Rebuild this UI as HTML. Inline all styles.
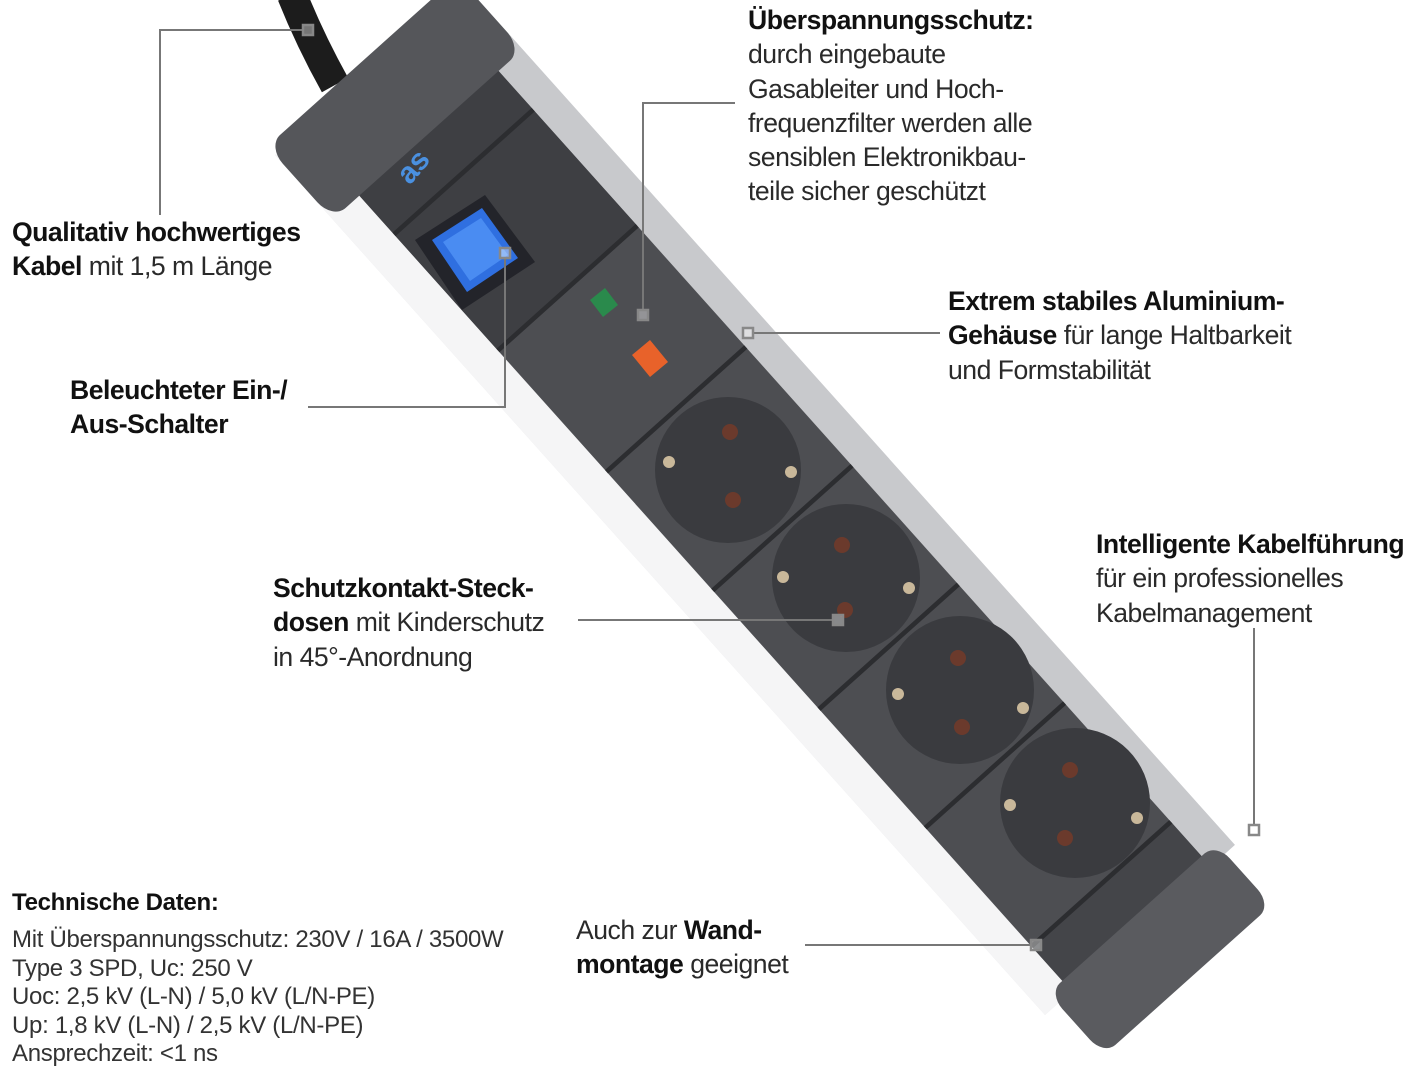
<!DOCTYPE html>
<html><head><meta charset="utf-8"><style>
body{margin:0;width:1416px;height:1080px;background:#fff;position:relative;overflow:hidden;font-family:"Liberation Sans",Arial,sans-serif;color:#2a2a2a}
.t{position:absolute;font-size:26.6px;line-height:34.3px;letter-spacing:-0.5px}
b{font-weight:bold;color:#111}
.s{position:absolute;font-size:24px;line-height:28.6px;color:#333;letter-spacing:-0.3px}
svg{position:absolute;left:0;top:0}
</style></head><body>
<svg width="1416" height="1080">
<path d="M292 -5 Q310 40 335 85" stroke="#1c1c1c" stroke-width="30" fill="none"/>
<g transform="matrix(0.77,0.86,0.633,-0.567,275,155)">
 <rect x="0" y="0" width="1000" height="300" fill="#e2e3e5"/>
 <rect x="0" y="0" width="1000" height="42" fill="#f5f5f6"/>
 <rect x="0" y="262" width="1000" height="38" fill="#c8c9cc"/>
 <rect x="0" y="42" width="1000" height="220" fill="#4d4e52"/>
 <rect x="-10" y="0" width="85" height="300" rx="20" fill="#55565a"/>
 <rect x="75" y="42" width="180" height="220" fill="#3e3f43"/>
 <rect x="948" y="42" width="40" height="220" fill="#444549"/>
 <rect x="988" y="20" width="72" height="265" rx="18" fill="#5a5b5f"/>
 <g stroke="#2c2d30" stroke-width="4">
  <line x1="120" y1="42" x2="120" y2="262"/><line x1="255" y1="42" x2="255" y2="262"/><line x1="396" y1="42" x2="396" y2="262"/><line x1="534" y1="42" x2="534" y2="262"/><line x1="672" y1="42" x2="672" y2="262"/><line x1="810" y1="42" x2="810" y2="262"/><line x1="948" y1="42" x2="948" y2="262"/>
 </g>
</g>
<polygon points="590,300 605,288 618,305 603,317" fill="#2a8a4c"/>
<polygon points="632,355 650,340 668,362 650,377" fill="#e8622a"/>
<polygon points="415,240 485,195 535,262 462,310" fill="#23242a"/>
<polygon points="432,240 482,208 518,258 467,292" fill="#2f6fe0"/>
<polygon points="443,242 481,218 508,255 470,281" fill="#4a8cf2"/>
<text x="398" y="180" fill="#4a90e0" font-size="30" font-weight="bold" font-family="Liberation Sans" transform="rotate(-50 410 170)">as</text>
<g fill="#3a3b3f">
 <circle cx="728" cy="470" r="73"/><circle cx="846" cy="578" r="74"/><circle cx="960" cy="690" r="74"/><circle cx="1075" cy="803" r="75"/>
</g>
<g fill="#6b3a2c">
 <circle cx="730" cy="432" r="8"/><circle cx="733" cy="500" r="8"/>
 <circle cx="842" cy="545" r="8"/><circle cx="845" cy="610" r="8"/>
 <circle cx="958" cy="658" r="8"/><circle cx="962" cy="727" r="8"/>
 <circle cx="1070" cy="770" r="8"/><circle cx="1065" cy="838" r="8"/>
</g>
<g fill="#c9b89a">
 <circle cx="669" cy="462" r="6"/><circle cx="791" cy="472" r="6"/>
 <circle cx="783" cy="577" r="6"/><circle cx="909" cy="588" r="6"/>
 <circle cx="898" cy="694" r="6"/><circle cx="1023" cy="708" r="6"/>
 <circle cx="1010" cy="805" r="6"/><circle cx="1137" cy="818" r="6"/>
</g>
<g stroke="#777" stroke-width="2" fill="none">
 <path d="M160 215 V30 H303"/><path d="M308 407 H505 V258"/><path d="M643 310 V103 H735"/>
 <path d="M753 333 H940"/><path d="M578 620 H833"/><path d="M1254 628 V825"/><path d="M805 945 H1031"/>
</g>
<g stroke="#888" stroke-width="2.5" fill="rgba(255,255,255,0.4)">
 <rect x="303" y="25" width="10" height="10"/><rect x="500" y="248" width="10" height="10"/><rect x="638" y="310" width="10" height="10"/>
 <rect x="743" y="328" width="10" height="10"/><rect x="833" y="615" width="10" height="10"/><rect x="1249" y="825" width="10" height="10"/><rect x="1031" y="940" width="10" height="10"/>
</g>
</svg>
<div class="t" style="left:12px;top:215px"><b>Qualitativ hochwertiges</b><br><b>Kabel</b> mit 1,5 m Länge</div>
<div class="t" style="left:70px;top:373px"><b>Beleuchteter Ein-/</b><br><b>Aus-Schalter</b></div>
<div class="t" style="left:748px;top:3px"><b>Überspannungsschutz:</b><br>durch eingebaute<br>Gasableiter und Hoch-<br>frequenzfilter werden alle<br>sensiblen Elektronikbau-<br>teile sicher geschützt</div>
<div class="t" style="left:948px;top:284px"><b>Extrem stabiles Aluminium-</b><br><b>Gehäuse</b> für lange Haltbarkeit<br>und Formstabilität</div>
<div class="t" style="left:273px;top:571px"><b>Schutzkontakt-Steck-</b><br><b>dosen</b> mit Kinderschutz<br>in 45°-Anordnung</div>
<div class="t" style="left:1096px;top:527px"><b>Intelligente Kabelführung</b><br>für ein professionelles<br>Kabelmanagement</div>
<div class="t" style="left:576px;top:913px">Auch zur <b>Wand-</b><br><b>montage</b> geeignet</div>
<div class="s" style="left:12px;top:889px"><b>Technische Daten:</b></div>
<div class="s" style="left:12px;top:926px">Mit Überspannungsschutz: 230V / 16A / 3500W<br>Type 3 SPD, Uc: 250 V<br>Uoc: 2,5 kV (L-N) / 5,0 kV (L/N-PE)<br>Up: 1,8 kV (L-N) / 2,5 kV (L/N-PE)<br>Ansprechzeit: &lt;1 ns</div>
</body></html>
